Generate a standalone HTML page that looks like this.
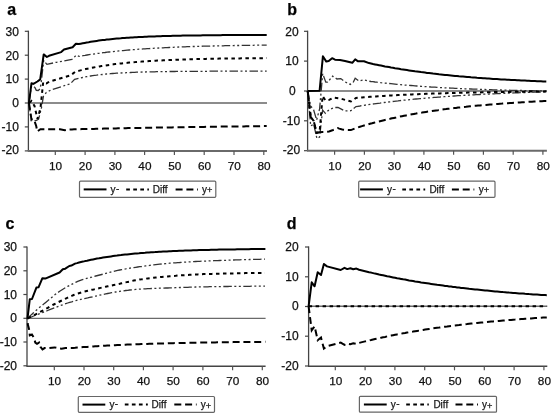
<!DOCTYPE html>
<html><head><meta charset="utf-8"><title>Figure</title>
<style>html,body{margin:0;padding:0;background:#fff;}svg{display:block;} text{stroke:#111;stroke-width:0.25px;}</style>
</head><body>
<svg width="552" height="413" viewBox="0 0 552 413">
<rect width="552" height="413" fill="#fff"/>
<line x1="28.4" y1="102.9" x2="267.0" y2="102.9" stroke="#8c8c8c" stroke-width="2.0"/>
<line x1="28.4" y1="30.7" x2="28.4" y2="150.9" stroke="#444" stroke-width="1.3"/>
<line x1="24.8" y1="31.3" x2="28.4" y2="31.3" stroke="#444" stroke-width="1.2"/>
<text x="18.9" y="36.0" text-anchor="end" font-family="Liberation Sans, Arial, sans-serif" font-size="12" fill="#111">30</text>
<line x1="24.8" y1="55.2" x2="28.4" y2="55.2" stroke="#444" stroke-width="1.2"/>
<text x="18.9" y="60.0" text-anchor="end" font-family="Liberation Sans, Arial, sans-serif" font-size="12" fill="#111">20</text>
<line x1="24.8" y1="79.1" x2="28.4" y2="79.1" stroke="#444" stroke-width="1.2"/>
<text x="18.9" y="83.0" text-anchor="end" font-family="Liberation Sans, Arial, sans-serif" font-size="12" fill="#111">10</text>
<line x1="24.8" y1="103.0" x2="28.4" y2="103.0" stroke="#444" stroke-width="1.2"/>
<text x="18.9" y="107.0" text-anchor="end" font-family="Liberation Sans, Arial, sans-serif" font-size="12" fill="#111">0</text>
<line x1="24.8" y1="126.9" x2="28.4" y2="126.9" stroke="#444" stroke-width="1.2"/>
<text x="18.9" y="131.0" text-anchor="end" font-family="Liberation Sans, Arial, sans-serif" font-size="12" fill="#111">-10</text>
<line x1="24.8" y1="150.9" x2="28.4" y2="150.9" stroke="#444" stroke-width="1.2"/>
<text x="18.9" y="154.0" text-anchor="end" font-family="Liberation Sans, Arial, sans-serif" font-size="12" fill="#111">-20</text>
<line x1="27.8" y1="150.9" x2="267.0" y2="150.9" stroke="#6a6a6a" stroke-width="2.0"/>
<line x1="55.3" y1="150.9" x2="55.3" y2="154.9" stroke="#555" stroke-width="1.2"/>
<text x="55.6" y="170.0" text-anchor="middle" font-family="Liberation Sans, Arial, sans-serif" font-size="11.8" fill="#111">10</text>
<line x1="85.1" y1="150.9" x2="85.1" y2="154.9" stroke="#555" stroke-width="1.2"/>
<text x="85.4" y="170.0" text-anchor="middle" font-family="Liberation Sans, Arial, sans-serif" font-size="11.8" fill="#111">20</text>
<line x1="114.9" y1="150.9" x2="114.9" y2="154.9" stroke="#555" stroke-width="1.2"/>
<text x="115.2" y="170.0" text-anchor="middle" font-family="Liberation Sans, Arial, sans-serif" font-size="11.8" fill="#111">30</text>
<line x1="144.6" y1="150.9" x2="144.6" y2="154.9" stroke="#555" stroke-width="1.2"/>
<text x="144.9" y="170.0" text-anchor="middle" font-family="Liberation Sans, Arial, sans-serif" font-size="11.8" fill="#111">40</text>
<line x1="174.4" y1="150.9" x2="174.4" y2="154.9" stroke="#555" stroke-width="1.2"/>
<text x="174.7" y="170.0" text-anchor="middle" font-family="Liberation Sans, Arial, sans-serif" font-size="11.8" fill="#111">50</text>
<line x1="204.2" y1="150.9" x2="204.2" y2="154.9" stroke="#555" stroke-width="1.2"/>
<text x="204.5" y="170.0" text-anchor="middle" font-family="Liberation Sans, Arial, sans-serif" font-size="11.8" fill="#111">60</text>
<line x1="234.0" y1="150.9" x2="234.0" y2="154.9" stroke="#555" stroke-width="1.2"/>
<text x="234.3" y="170.0" text-anchor="middle" font-family="Liberation Sans, Arial, sans-serif" font-size="11.8" fill="#111">70</text>
<line x1="263.8" y1="150.9" x2="263.8" y2="154.9" stroke="#555" stroke-width="1.2"/>
<text x="264.1" y="170.0" text-anchor="middle" font-family="Liberation Sans, Arial, sans-serif" font-size="11.8" fill="#111">80</text>
<text x="7.2" y="14.6" font-family="Liberation Sans, Arial, sans-serif" font-size="16" font-weight="bold" fill="#000">a</text>
<path d="M28.9 103.0 L31.5 86.0 L33.1 86.0 L35.0 87.6 L36.3 90.3 L38.2 90.5 L40.1 88.7 L41.1 83.3 L43.7 60.5 L46.9 64.3 L56.3 62.3 L71.8 59.5 L76.3 55.2 L79.1 56.4 L81.1 56.0 L83.1 55.7 L85.1 55.4 L87.1 55.0 L89.1 54.7 L91.1 54.4 L93.1 54.1 L95.1 53.8 L97.1 53.5 L99.1 53.3 L101.1 53.0 L103.1 52.7 L105.1 52.5 L107.1 52.2 L109.1 52.0 L111.1 51.8 L113.1 51.6 L115.1 51.3 L117.1 51.1 L119.1 50.9 L121.1 50.7 L123.1 50.6 L125.1 50.4 L127.1 50.2 L129.1 50.0 L131.1 49.9 L133.1 49.7 L135.1 49.5 L137.1 49.4 L139.1 49.2 L141.1 49.1 L143.1 48.9 L145.1 48.8 L147.1 48.7 L149.1 48.6 L151.1 48.4 L153.1 48.3 L155.1 48.2 L157.1 48.1 L159.1 48.0 L161.1 47.9 L163.1 47.8 L165.1 47.7 L167.1 47.6 L169.1 47.5 L171.1 47.4 L173.1 47.3 L175.1 47.2 L177.1 47.1 L179.1 47.0 L181.1 47.0 L183.1 46.9 L185.1 46.8 L187.1 46.7 L189.1 46.7 L191.1 46.6 L193.1 46.5 L195.1 46.5 L197.1 46.4 L199.1 46.4 L201.1 46.3 L203.1 46.2 L205.1 46.2 L207.1 46.1 L209.1 46.1 L211.1 46.0 L213.1 46.0 L215.1 45.9 L217.1 45.9 L219.1 45.8 L221.1 45.8 L223.1 45.8 L225.1 45.7 L227.1 45.7 L229.1 45.6 L231.1 45.6 L233.1 45.6 L235.1 45.5 L237.1 45.5 L239.1 45.5 L241.1 45.4 L243.1 45.4 L245.1 45.4 L247.1 45.4 L249.1 45.3 L251.1 45.3 L253.1 45.3 L255.1 45.2 L257.1 45.2 L259.1 45.2 L261.1 45.2 L263.1 45.2 L265.1 45.1 L266.7 45.1" fill="none" stroke="#333" stroke-width="1.3" stroke-dasharray="8.5 2.5 2 2.5 2 2.5"/>
<path d="M28.9 103.0 L30.8 117.3 L33.7 121.1 L36.5 120.5 L38.6 119.2 L41.5 107.6 L43.5 96.0 L46.3 92.5 L51.1 89.9 L63.3 86.0 L70.3 83.8 L74.6 79.4 L76.6 78.9 L78.6 78.4 L80.6 77.9 L82.6 77.5 L84.6 77.1 L86.6 76.7 L88.6 76.4 L90.6 76.0 L92.6 75.7 L94.6 75.4 L96.6 75.2 L98.6 74.9 L100.6 74.7 L102.6 74.5 L104.6 74.2 L106.6 74.0 L108.6 73.9 L110.6 73.7 L112.6 73.5 L114.6 73.4 L116.6 73.2 L118.6 73.1 L120.6 73.0 L122.6 72.9 L124.6 72.8 L126.6 72.7 L128.6 72.6 L130.6 72.5 L132.6 72.4 L134.6 72.3 L136.6 72.2 L138.6 72.2 L140.6 72.1 L142.6 72.0 L144.6 72.0 L146.6 71.9 L148.6 71.9 L150.6 71.8 L152.6 71.8 L154.6 71.8 L156.6 71.7 L158.6 71.7 L160.6 71.6 L162.6 71.6 L164.6 71.6 L166.6 71.6 L168.6 71.5 L170.6 71.5 L172.6 71.5 L174.6 71.5 L176.6 71.4 L178.6 71.4 L180.6 71.4 L182.6 71.4 L184.6 71.4 L186.6 71.4 L188.6 71.3 L190.6 71.3 L192.6 71.3 L194.6 71.3 L196.6 71.3 L198.6 71.3 L200.6 71.3 L202.6 71.3 L204.6 71.3 L206.6 71.3 L208.6 71.2 L210.6 71.2 L212.6 71.2 L214.6 71.2 L216.6 71.2 L218.6 71.2 L220.6 71.2 L222.6 71.2 L224.6 71.2 L226.6 71.2 L228.6 71.2 L230.6 71.2 L232.6 71.2 L234.6 71.2 L236.6 71.2 L238.6 71.2 L240.6 71.2 L242.6 71.2 L244.6 71.2 L246.6 71.2 L248.6 71.2 L250.6 71.2 L252.6 71.2 L254.6 71.2 L256.6 71.2 L258.6 71.2 L260.6 71.2 L262.6 71.2 L264.6 71.2 L266.6 71.2 L266.7 71.2" fill="none" stroke="#333" stroke-width="1.3" stroke-dasharray="8.5 2.5 2 2.5 2 2.5"/>
<path d="M28.9 103.0 L30.4 111.5 L31.5 120.5 L34.5 121.0 L36.2 126.0 L37.3 131.5 L40.4 129.3 L60.0 129.2 L64.8 130.2 L68.0 129.5 L70.0 129.4 L72.0 129.4 L74.0 129.3 L76.0 129.3 L78.0 129.2 L80.0 129.2 L82.0 129.1 L84.0 129.1 L86.0 129.1 L88.0 129.0 L90.0 129.0 L92.0 128.9 L94.0 128.9 L96.0 128.8 L98.0 128.8 L100.0 128.7 L102.0 128.7 L104.0 128.6 L106.0 128.6 L108.0 128.6 L110.0 128.5 L112.0 128.5 L114.0 128.4 L116.0 128.4 L118.0 128.3 L120.0 128.3 L122.0 128.3 L124.0 128.2 L126.0 128.2 L128.0 128.1 L130.0 128.1 L132.0 128.1 L134.0 128.0 L136.0 128.0 L138.0 127.9 L140.0 127.9 L142.0 127.9 L144.0 127.8 L146.0 127.8 L148.0 127.8 L150.0 127.7 L152.0 127.7 L154.0 127.7 L156.0 127.6 L158.0 127.6 L160.0 127.6 L162.0 127.5 L164.0 127.5 L166.0 127.5 L168.0 127.4 L170.0 127.4 L172.0 127.4 L174.0 127.3 L176.0 127.3 L178.0 127.3 L180.0 127.2 L182.0 127.2 L184.0 127.2 L186.0 127.1 L188.0 127.1 L190.0 127.1 L192.0 127.0 L194.0 127.0 L196.0 127.0 L198.0 127.0 L200.0 126.9 L202.0 126.9 L204.0 126.9 L206.0 126.8 L208.0 126.8 L210.0 126.8 L212.0 126.8 L214.0 126.7 L216.0 126.7 L218.0 126.7 L220.0 126.6 L222.0 126.6 L224.0 126.6 L226.0 126.6 L228.0 126.5 L230.0 126.5 L232.0 126.5 L234.0 126.5 L236.0 126.4 L238.0 126.4 L240.0 126.4 L242.0 126.4 L244.0 126.4 L246.0 126.3 L248.0 126.3 L250.0 126.3 L252.0 126.3 L254.0 126.2 L256.0 126.2 L258.0 126.2 L260.0 126.2 L262.0 126.1 L264.0 126.1 L266.0 126.1 L266.7 126.1" fill="none" stroke="#000" stroke-width="2" stroke-dasharray="7 3.8" stroke-dashoffset="0.0"/>
<path d="M28.9 103.0 L31.5 101.0 L34.5 106.0 L37.5 119.0 L40.5 108.0 L43.2 82.1 L46.5 83.4 L49.3 81.6 L70.3 75.5 L75.5 71.6 L77.5 71.1 L79.5 70.6 L81.5 70.1 L83.5 69.6 L85.5 69.1 L87.5 68.7 L89.5 68.3 L91.5 67.9 L93.5 67.5 L95.5 67.1 L97.5 66.8 L99.5 66.4 L101.5 66.1 L103.5 65.8 L105.5 65.5 L107.5 65.2 L109.5 64.9 L111.5 64.6 L113.5 64.3 L115.5 64.1 L117.5 63.9 L119.5 63.6 L121.5 63.4 L123.5 63.2 L125.5 63.0 L127.5 62.8 L129.5 62.6 L131.5 62.4 L133.5 62.2 L135.5 62.1 L137.5 61.9 L139.5 61.7 L141.5 61.6 L143.5 61.4 L145.5 61.3 L147.5 61.2 L149.5 61.0 L151.5 60.9 L153.5 60.8 L155.5 60.7 L157.5 60.6 L159.5 60.5 L161.5 60.4 L163.5 60.3 L165.5 60.2 L167.5 60.1 L169.5 60.0 L171.5 59.9 L173.5 59.8 L175.5 59.7 L177.5 59.7 L179.5 59.6 L181.5 59.5 L183.5 59.5 L185.5 59.4 L187.5 59.3 L189.5 59.3 L191.5 59.2 L193.5 59.2 L195.5 59.1 L197.5 59.1 L199.5 59.0 L201.5 59.0 L203.5 58.9 L205.5 58.9 L207.5 58.8 L209.5 58.8 L211.5 58.8 L213.5 58.7 L215.5 58.7 L217.5 58.7 L219.5 58.6 L221.5 58.6 L223.5 58.6 L225.5 58.5 L227.5 58.5 L229.5 58.5 L231.5 58.5 L233.5 58.4 L235.5 58.4 L237.5 58.4 L239.5 58.4 L241.5 58.3 L243.5 58.3 L245.5 58.3 L247.5 58.3 L249.5 58.3 L251.5 58.2 L253.5 58.2 L255.5 58.2 L257.5 58.2 L259.5 58.2 L261.5 58.2 L263.5 58.2 L265.5 58.1 L266.7 58.1" fill="none" stroke="#000" stroke-width="2" stroke-dasharray="3.5 3.5"/>
<path d="M28.9 103.3 L31.5 83.2 L33.4 83.9 L37.4 81.5 L40.2 79.4 L43.7 54.4 L46.9 57.0 L49.0 55.8 L61.2 52.1 L64.0 49.5 L72.6 47.2 L75.9 43.8 L78.7 44.1 L80.7 43.7 L82.7 43.3 L84.7 42.9 L86.7 42.5 L88.7 42.2 L90.7 41.8 L92.7 41.5 L94.7 41.2 L96.7 40.9 L98.7 40.6 L100.7 40.3 L102.7 40.1 L104.7 39.9 L106.7 39.6 L108.7 39.4 L110.7 39.2 L112.7 39.0 L114.7 38.8 L116.7 38.6 L118.7 38.4 L120.7 38.3 L122.7 38.1 L124.7 38.0 L126.7 37.8 L128.7 37.7 L130.7 37.5 L132.7 37.4 L134.7 37.3 L136.7 37.2 L138.7 37.1 L140.7 37.0 L142.7 36.9 L144.7 36.8 L146.7 36.7 L148.7 36.6 L150.7 36.5 L152.7 36.4 L154.7 36.4 L156.7 36.3 L158.7 36.2 L160.7 36.2 L162.7 36.1 L164.7 36.0 L166.7 36.0 L168.7 35.9 L170.7 35.9 L172.7 35.8 L174.7 35.8 L176.7 35.7 L178.7 35.7 L180.7 35.7 L182.7 35.6 L184.7 35.6 L186.7 35.6 L188.7 35.5 L190.7 35.5 L192.7 35.5 L194.7 35.4 L196.7 35.4 L198.7 35.4 L200.7 35.4 L202.7 35.3 L204.7 35.3 L206.7 35.3 L208.7 35.3 L210.7 35.2 L212.7 35.2 L214.7 35.2 L216.7 35.2 L218.7 35.2 L220.7 35.2 L222.7 35.1 L224.7 35.1 L226.7 35.1 L228.7 35.1 L230.7 35.1 L232.7 35.1 L234.7 35.1 L236.7 35.1 L238.7 35.0 L240.7 35.0 L242.7 35.0 L244.7 35.0 L246.7 35.0 L248.7 35.0 L250.7 35.0 L252.7 35.0 L254.7 35.0 L256.7 35.0 L258.7 35.0 L260.7 35.0 L262.7 35.0 L264.7 34.9 L266.7 34.9" fill="none" stroke="#000" stroke-width="2" stroke-linejoin="round"/>
<rect x="79.5" y="181.2" width="136.3" height="16.1" rx="1" fill="#fff" stroke="#666" stroke-width="1.2"/>
<line x1="83.7" y1="189.4" x2="106.5" y2="189.4" stroke="#000" stroke-width="2"/>
<line x1="126.2" y1="189.4" x2="148.9" y2="189.4" stroke="#000" stroke-width="2" stroke-dasharray="3.7 3.35"/>
<line x1="175.6" y1="189.4" x2="198.0" y2="189.4" stroke="#000" stroke-width="2" stroke-dasharray="7 3.8"/>
<text x="110.6" y="192.8" font-family="Liberation Sans, Arial, sans-serif" font-size="10" fill="#222">y<tspan dx="0.4" dy="-0.6">-</tspan></text>
<text x="152.8" y="192.8" font-family="Liberation Sans, Arial, sans-serif" font-size="10" fill="#222">Diff</text>
<text x="201.9" y="192.8" font-family="Liberation Sans, Arial, sans-serif" font-size="10" fill="#222">y<tspan dy="0.6" font-size="9.2">+</tspan></text>
<line x1="307.6" y1="90.9" x2="546.9" y2="90.9" stroke="#8c8c8c" stroke-width="2.0"/>
<line x1="307.6" y1="30.7" x2="307.6" y2="150.7" stroke="#444" stroke-width="1.3"/>
<line x1="304.0" y1="31.3" x2="307.6" y2="31.3" stroke="#444" stroke-width="1.2"/>
<text x="298.6" y="36.0" text-anchor="end" font-family="Liberation Sans, Arial, sans-serif" font-size="12" fill="#111">20</text>
<line x1="304.0" y1="61.1" x2="307.6" y2="61.1" stroke="#444" stroke-width="1.2"/>
<text x="298.6" y="65.0" text-anchor="end" font-family="Liberation Sans, Arial, sans-serif" font-size="12" fill="#111">10</text>
<line x1="304.0" y1="91.0" x2="307.6" y2="91.0" stroke="#444" stroke-width="1.2"/>
<text x="295.6" y="95.0" text-anchor="end" font-family="Liberation Sans, Arial, sans-serif" font-size="12" fill="#111">0</text>
<line x1="304.0" y1="120.8" x2="307.6" y2="120.8" stroke="#444" stroke-width="1.2"/>
<text x="300.1" y="125.0" text-anchor="end" font-family="Liberation Sans, Arial, sans-serif" font-size="12" fill="#111">-10</text>
<line x1="304.0" y1="150.7" x2="307.6" y2="150.7" stroke="#444" stroke-width="1.2"/>
<text x="300.1" y="154.0" text-anchor="end" font-family="Liberation Sans, Arial, sans-serif" font-size="12" fill="#111">-20</text>
<line x1="307.0" y1="150.7" x2="546.9" y2="150.7" stroke="#6a6a6a" stroke-width="2.0"/>
<line x1="334.6" y1="150.7" x2="334.6" y2="154.7" stroke="#555" stroke-width="1.2"/>
<text x="334.9" y="170.0" text-anchor="middle" font-family="Liberation Sans, Arial, sans-serif" font-size="11.8" fill="#111">10</text>
<line x1="364.4" y1="150.7" x2="364.4" y2="154.7" stroke="#555" stroke-width="1.2"/>
<text x="364.7" y="170.0" text-anchor="middle" font-family="Liberation Sans, Arial, sans-serif" font-size="11.8" fill="#111">20</text>
<line x1="394.1" y1="150.7" x2="394.1" y2="154.7" stroke="#555" stroke-width="1.2"/>
<text x="394.4" y="170.0" text-anchor="middle" font-family="Liberation Sans, Arial, sans-serif" font-size="11.8" fill="#111">30</text>
<line x1="423.9" y1="150.7" x2="423.9" y2="154.7" stroke="#555" stroke-width="1.2"/>
<text x="424.2" y="170.0" text-anchor="middle" font-family="Liberation Sans, Arial, sans-serif" font-size="11.8" fill="#111">40</text>
<line x1="453.6" y1="150.7" x2="453.6" y2="154.7" stroke="#555" stroke-width="1.2"/>
<text x="453.9" y="170.0" text-anchor="middle" font-family="Liberation Sans, Arial, sans-serif" font-size="11.8" fill="#111">50</text>
<line x1="483.4" y1="150.7" x2="483.4" y2="154.7" stroke="#555" stroke-width="1.2"/>
<text x="483.7" y="170.0" text-anchor="middle" font-family="Liberation Sans, Arial, sans-serif" font-size="11.8" fill="#111">60</text>
<line x1="513.2" y1="150.7" x2="513.2" y2="154.7" stroke="#555" stroke-width="1.2"/>
<text x="513.5" y="170.0" text-anchor="middle" font-family="Liberation Sans, Arial, sans-serif" font-size="11.8" fill="#111">70</text>
<line x1="542.9" y1="150.7" x2="542.9" y2="154.7" stroke="#555" stroke-width="1.2"/>
<text x="543.2" y="170.0" text-anchor="middle" font-family="Liberation Sans, Arial, sans-serif" font-size="11.8" fill="#111">80</text>
<text x="287.2" y="14.6" font-family="Liberation Sans, Arial, sans-serif" font-size="16" font-weight="bold" fill="#000">b</text>
<path d="M307.7 91.0 L310.7 106.0 L313.7 110.0 L316.6 120.0 L319.6 109.0 L322.7 73.7 L325.8 82.2 L327.7 82.2 L332.6 76.1 L337.0 79.0 L340.8 78.6 L345.1 81.9 L350.2 84.4 L353.1 82.7 L355.2 78.3 L358.9 80.9 L364.0 79.8 L369.0 81.2 L371.0 81.5 L373.0 81.7 L375.0 82.0 L377.0 82.2 L379.0 82.4 L381.0 82.7 L383.0 82.9 L385.0 83.1 L387.0 83.3 L389.0 83.5 L391.0 83.7 L393.0 83.9 L395.0 84.1 L397.0 84.3 L399.0 84.5 L401.0 84.7 L403.0 84.9 L405.0 85.1 L407.0 85.2 L409.0 85.4 L411.0 85.5 L413.0 85.7 L415.0 85.9 L417.0 86.0 L419.0 86.2 L421.0 86.3 L423.0 86.4 L425.0 86.6 L427.0 86.7 L429.0 86.8 L431.0 87.0 L433.0 87.1 L435.0 87.2 L437.0 87.3 L439.0 87.5 L441.0 87.6 L443.0 87.7 L445.0 87.8 L447.0 87.9 L449.0 88.0 L451.0 88.1 L453.0 88.2 L455.0 88.3 L457.0 88.4 L459.0 88.5 L461.0 88.6 L463.0 88.7 L465.0 88.8 L467.0 88.8 L469.0 88.9 L471.0 89.0 L473.0 89.1 L475.0 89.2 L477.0 89.2 L479.0 89.3 L481.0 89.4 L483.0 89.4 L485.0 89.5 L487.0 89.6 L489.0 89.6 L491.0 89.7 L493.0 89.8 L495.0 89.8 L497.0 89.9 L499.0 89.9 L501.0 90.0 L503.0 90.1 L505.0 90.1 L507.0 90.2 L509.0 90.2 L511.0 90.3 L513.0 90.3 L515.0 90.4 L517.0 90.4 L519.0 90.4 L521.0 90.5 L523.0 90.5 L525.0 90.6 L527.0 90.6 L529.0 90.7 L531.0 90.7 L533.0 90.7 L535.0 90.8 L537.0 90.8 L539.0 90.9 L541.0 90.9 L543.0 90.9 L545.0 91.0 L546.3 91.0" fill="none" stroke="#333" stroke-width="1.3" stroke-dasharray="8.5 2.5 2 2.5 2 2.5"/>
<path d="M307.7 91.0 L310.7 126.0 L313.7 124.0 L316.9 138.5 L319.6 137.0 L322.6 110.0 L325.4 113.3 L329.1 109.7 L334.2 107.5 L338.0 107.5 L341.3 109.1 L345.0 111.0 L350.9 110.7 L356.0 106.6 L358.0 106.3 L360.0 106.0 L362.0 105.6 L364.0 105.3 L366.0 105.0 L368.0 104.7 L370.0 104.4 L372.0 104.1 L374.0 103.9 L376.0 103.6 L378.0 103.3 L380.0 103.1 L382.0 102.8 L384.0 102.5 L386.0 102.3 L388.0 102.0 L390.0 101.8 L392.0 101.6 L394.0 101.3 L396.0 101.1 L398.0 100.9 L400.0 100.6 L402.0 100.4 L404.0 100.2 L406.0 100.0 L408.0 99.8 L410.0 99.6 L412.0 99.4 L414.0 99.2 L416.0 99.0 L418.0 98.8 L420.0 98.6 L422.0 98.5 L424.0 98.3 L426.0 98.1 L428.0 97.9 L430.0 97.8 L432.0 97.6 L434.0 97.4 L436.0 97.3 L438.0 97.1 L440.0 97.0 L442.0 96.8 L444.0 96.7 L446.0 96.5 L448.0 96.4 L450.0 96.3 L452.0 96.1 L454.0 96.0 L456.0 95.9 L458.0 95.7 L460.0 95.6 L462.0 95.5 L464.0 95.4 L466.0 95.2 L468.0 95.1 L470.0 95.0 L472.0 94.9 L474.0 94.8 L476.0 94.7 L478.0 94.6 L480.0 94.5 L482.0 94.4 L484.0 94.2 L486.0 94.1 L488.0 94.1 L490.0 94.0 L492.0 93.9 L494.0 93.8 L496.0 93.7 L498.0 93.6 L500.0 93.5 L502.0 93.4 L504.0 93.3 L506.0 93.2 L508.0 93.2 L510.0 93.1 L512.0 93.0 L514.0 92.9 L516.0 92.9 L518.0 92.8 L520.0 92.7 L522.0 92.6 L524.0 92.6 L526.0 92.5 L528.0 92.4 L530.0 92.4 L532.0 92.3 L534.0 92.2 L536.0 92.2 L538.0 92.1 L540.0 92.1 L542.0 92.0 L544.0 91.9 L546.0 91.9 L546.3 91.9" fill="none" stroke="#333" stroke-width="1.3" stroke-dasharray="8.5 2.5 2 2.5 2 2.5"/>
<path d="M307.7 91.0 L310.7 117.0 L313.8 121.2 L316.5 132.8 L319.6 132.3 L322.6 132.0 L325.6 132.0 L329.0 131.5 L333.1 130.0 L337.9 128.1 L339.2 128.6 L342.3 129.5 L344.3 129.8 L350.9 130.1 L356.0 128.0 L358.0 127.4 L360.0 126.7 L362.0 126.1 L364.0 125.5 L366.0 124.9 L368.0 124.4 L370.0 123.8 L372.0 123.3 L374.0 122.7 L376.0 122.2 L378.0 121.7 L380.0 121.2 L382.0 120.7 L384.0 120.2 L386.0 119.7 L388.0 119.2 L390.0 118.8 L392.0 118.3 L394.0 117.9 L396.0 117.5 L398.0 117.0 L400.0 116.6 L402.0 116.2 L404.0 115.8 L406.0 115.4 L408.0 115.0 L410.0 114.7 L412.0 114.3 L414.0 113.9 L416.0 113.6 L418.0 113.2 L420.0 112.9 L422.0 112.6 L424.0 112.2 L426.0 111.9 L428.0 111.6 L430.0 111.3 L432.0 111.0 L434.0 110.7 L436.0 110.4 L438.0 110.2 L440.0 109.9 L442.0 109.6 L444.0 109.3 L446.0 109.1 L448.0 108.8 L450.0 108.6 L452.0 108.3 L454.0 108.1 L456.0 107.9 L458.0 107.6 L460.0 107.4 L462.0 107.2 L464.0 107.0 L466.0 106.8 L468.0 106.5 L470.0 106.3 L472.0 106.1 L474.0 105.9 L476.0 105.8 L478.0 105.6 L480.0 105.4 L482.0 105.2 L484.0 105.0 L486.0 104.9 L488.0 104.7 L490.0 104.5 L492.0 104.4 L494.0 104.2 L496.0 104.0 L498.0 103.9 L500.0 103.7 L502.0 103.6 L504.0 103.4 L506.0 103.3 L508.0 103.2 L510.0 103.0 L512.0 102.9 L514.0 102.8 L516.0 102.6 L518.0 102.5 L520.0 102.4 L522.0 102.3 L524.0 102.2 L526.0 102.0 L528.0 101.9 L530.0 101.8 L532.0 101.7 L534.0 101.6 L536.0 101.5 L538.0 101.4 L540.0 101.3 L542.0 101.2 L544.0 101.1 L546.0 101.0 L546.3 101.0" fill="none" stroke="#000" stroke-width="2" stroke-dasharray="7 3.8" stroke-dashoffset="0.0"/>
<path d="M307.7 91.0 L310.7 117.0 L313.7 121.0 L316.6 133.0 L319.6 132.0 L322.6 96.0 L325.4 100.3 L329.2 99.9 L333.5 97.5 L339.9 98.4 L345.8 100.1 L350.9 101.5 L356.0 97.9 L358.0 97.7 L360.0 97.6 L362.0 97.4 L364.0 97.2 L366.0 97.1 L368.0 96.9 L370.0 96.8 L372.0 96.7 L374.0 96.5 L376.0 96.4 L378.0 96.2 L380.0 96.1 L382.0 96.0 L384.0 95.9 L386.0 95.7 L388.0 95.6 L390.0 95.5 L392.0 95.4 L394.0 95.3 L396.0 95.2 L398.0 95.1 L400.0 95.0 L402.0 94.9 L404.0 94.8 L406.0 94.7 L408.0 94.6 L410.0 94.5 L412.0 94.4 L414.0 94.3 L416.0 94.2 L418.0 94.2 L420.0 94.1 L422.0 94.0 L424.0 93.9 L426.0 93.8 L428.0 93.8 L430.0 93.7 L432.0 93.6 L434.0 93.6 L436.0 93.5 L438.0 93.4 L440.0 93.4 L442.0 93.3 L444.0 93.2 L446.0 93.2 L448.0 93.1 L450.0 93.1 L452.0 93.0 L454.0 93.0 L456.0 92.9 L458.0 92.9 L460.0 92.8 L462.0 92.8 L464.0 92.7 L466.0 92.7 L468.0 92.6 L470.0 92.6 L472.0 92.5 L474.0 92.5 L476.0 92.4 L478.0 92.4 L480.0 92.4 L482.0 92.3 L484.0 92.3 L486.0 92.3 L488.0 92.2 L490.0 92.2 L492.0 92.1 L494.0 92.1 L496.0 92.1 L498.0 92.0 L500.0 92.0 L502.0 92.0 L504.0 92.0 L506.0 91.9 L508.0 91.9 L510.0 91.9 L512.0 91.8 L514.0 91.8 L516.0 91.8 L518.0 91.8 L520.0 91.7 L522.0 91.7 L524.0 91.7 L526.0 91.7 L528.0 91.7 L530.0 91.6 L532.0 91.6 L534.0 91.6 L536.0 91.6 L538.0 91.5 L540.0 91.5 L542.0 91.5 L544.0 91.5 L546.0 91.5 L546.3 91.5" fill="none" stroke="#000" stroke-width="2" stroke-dasharray="3.5 3.5"/>
<path d="M307.7 91.0 L319.6 90.8 L322.9 56.3 L326.3 61.6 L328.7 61.1 L332.1 58.2 L335.0 59.7 L340.0 60.0 L345.0 61.1 L352.3 62.8 L355.2 59.4 L358.1 61.3 L364.0 61.3 L369.0 63.1 L371.0 63.5 L373.0 64.0 L375.0 64.4 L377.0 64.8 L379.0 65.2 L381.0 65.6 L383.0 66.0 L385.0 66.4 L387.0 66.7 L389.0 67.1 L391.0 67.5 L393.0 67.8 L395.0 68.2 L397.0 68.5 L399.0 68.8 L401.0 69.2 L403.0 69.5 L405.0 69.8 L407.0 70.1 L409.0 70.4 L411.0 70.7 L413.0 71.0 L415.0 71.3 L417.0 71.5 L419.0 71.8 L421.0 72.1 L423.0 72.3 L425.0 72.6 L427.0 72.9 L429.0 73.1 L431.0 73.3 L433.0 73.6 L435.0 73.8 L437.0 74.0 L439.0 74.3 L441.0 74.5 L443.0 74.7 L445.0 74.9 L447.0 75.1 L449.0 75.3 L451.0 75.5 L453.0 75.7 L455.0 75.9 L457.0 76.1 L459.0 76.3 L461.0 76.4 L463.0 76.6 L465.0 76.8 L467.0 77.0 L469.0 77.1 L471.0 77.3 L473.0 77.4 L475.0 77.6 L477.0 77.8 L479.0 77.9 L481.0 78.0 L483.0 78.2 L485.0 78.3 L487.0 78.5 L489.0 78.6 L491.0 78.7 L493.0 78.9 L495.0 79.0 L497.0 79.1 L499.0 79.2 L501.0 79.4 L503.0 79.5 L505.0 79.6 L507.0 79.7 L509.0 79.8 L511.0 79.9 L513.0 80.0 L515.0 80.1 L517.0 80.2 L519.0 80.3 L521.0 80.4 L523.0 80.5 L525.0 80.6 L527.0 80.7 L529.0 80.8 L531.0 80.9 L533.0 81.0 L535.0 81.1 L537.0 81.2 L539.0 81.3 L541.0 81.3 L543.0 81.4 L545.0 81.5 L546.3 81.5" fill="none" stroke="#000" stroke-width="2" stroke-linejoin="round"/>
<rect x="358.7" y="181.2" width="136.3" height="16.1" rx="1" fill="#fff" stroke="#666" stroke-width="1.2"/>
<line x1="360.1" y1="189.4" x2="382.9" y2="189.4" stroke="#000" stroke-width="2"/>
<line x1="402.3" y1="189.4" x2="425.2" y2="189.4" stroke="#000" stroke-width="2" stroke-dasharray="3.7 3.35"/>
<line x1="451.9" y1="189.4" x2="474.3" y2="189.4" stroke="#000" stroke-width="2" stroke-dasharray="7 3.8"/>
<text x="387.0" y="192.8" font-family="Liberation Sans, Arial, sans-serif" font-size="10" fill="#222">y<tspan dx="0.4" dy="-0.6">-</tspan></text>
<text x="429.4" y="192.8" font-family="Liberation Sans, Arial, sans-serif" font-size="10" fill="#222">Diff</text>
<text x="478.8" y="192.8" font-family="Liberation Sans, Arial, sans-serif" font-size="10" fill="#222">y<tspan dy="0.6" font-size="9.2">+</tspan></text>
<line x1="27.0" y1="318.4" x2="265.6" y2="318.4" stroke="#6a6a6a" stroke-width="1.4"/>
<line x1="27.0" y1="246.4" x2="27.0" y2="366.3" stroke="#444" stroke-width="1.3"/>
<line x1="23.4" y1="247.0" x2="27.0" y2="247.0" stroke="#444" stroke-width="1.2"/>
<text x="17.0" y="251.0" text-anchor="end" font-family="Liberation Sans, Arial, sans-serif" font-size="12" fill="#111">30</text>
<line x1="23.4" y1="270.8" x2="27.0" y2="270.8" stroke="#444" stroke-width="1.2"/>
<text x="17.0" y="275.0" text-anchor="end" font-family="Liberation Sans, Arial, sans-serif" font-size="12" fill="#111">20</text>
<line x1="23.4" y1="294.5" x2="27.0" y2="294.5" stroke="#444" stroke-width="1.2"/>
<text x="17.0" y="299.0" text-anchor="end" font-family="Liberation Sans, Arial, sans-serif" font-size="12" fill="#111">10</text>
<line x1="23.4" y1="318.3" x2="27.0" y2="318.3" stroke="#444" stroke-width="1.2"/>
<text x="17.0" y="322.0" text-anchor="end" font-family="Liberation Sans, Arial, sans-serif" font-size="12" fill="#111">0</text>
<line x1="23.4" y1="342.0" x2="27.0" y2="342.0" stroke="#444" stroke-width="1.2"/>
<text x="17.0" y="346.0" text-anchor="end" font-family="Liberation Sans, Arial, sans-serif" font-size="12" fill="#111">-10</text>
<line x1="23.4" y1="365.8" x2="27.0" y2="365.8" stroke="#444" stroke-width="1.2"/>
<text x="17.0" y="370.0" text-anchor="end" font-family="Liberation Sans, Arial, sans-serif" font-size="12" fill="#111">-20</text>
<line x1="26.4" y1="366.3" x2="265.6" y2="366.3" stroke="#444" stroke-width="1.4"/>
<line x1="54.3" y1="366.3" x2="54.3" y2="370.3" stroke="#555" stroke-width="1.2"/>
<text x="54.5" y="385.0" text-anchor="middle" font-family="Liberation Sans, Arial, sans-serif" font-size="11.8" fill="#111">10</text>
<line x1="84.0" y1="366.3" x2="84.0" y2="370.3" stroke="#555" stroke-width="1.2"/>
<text x="84.2" y="385.0" text-anchor="middle" font-family="Liberation Sans, Arial, sans-serif" font-size="11.8" fill="#111">20</text>
<line x1="113.7" y1="366.3" x2="113.7" y2="370.3" stroke="#555" stroke-width="1.2"/>
<text x="113.9" y="385.0" text-anchor="middle" font-family="Liberation Sans, Arial, sans-serif" font-size="11.8" fill="#111">30</text>
<line x1="143.4" y1="366.3" x2="143.4" y2="370.3" stroke="#555" stroke-width="1.2"/>
<text x="143.6" y="385.0" text-anchor="middle" font-family="Liberation Sans, Arial, sans-serif" font-size="11.8" fill="#111">40</text>
<line x1="173.1" y1="366.3" x2="173.1" y2="370.3" stroke="#555" stroke-width="1.2"/>
<text x="173.3" y="385.0" text-anchor="middle" font-family="Liberation Sans, Arial, sans-serif" font-size="11.8" fill="#111">50</text>
<line x1="202.9" y1="366.3" x2="202.9" y2="370.3" stroke="#555" stroke-width="1.2"/>
<text x="203.1" y="385.0" text-anchor="middle" font-family="Liberation Sans, Arial, sans-serif" font-size="11.8" fill="#111">60</text>
<line x1="232.6" y1="366.3" x2="232.6" y2="370.3" stroke="#555" stroke-width="1.2"/>
<text x="232.8" y="385.0" text-anchor="middle" font-family="Liberation Sans, Arial, sans-serif" font-size="11.8" fill="#111">70</text>
<line x1="262.3" y1="366.3" x2="262.3" y2="370.3" stroke="#555" stroke-width="1.2"/>
<text x="262.5" y="385.0" text-anchor="middle" font-family="Liberation Sans, Arial, sans-serif" font-size="11.8" fill="#111">80</text>
<text x="5.6" y="228.6" font-family="Liberation Sans, Arial, sans-serif" font-size="16" font-weight="bold" fill="#000">c</text>
<path d="M27.7 318.3 L29.7 316.3 L31.7 314.4 L33.7 312.6 L35.7 310.8 L37.7 309.0 L39.7 307.3 L41.7 305.7 L43.7 304.1 L45.7 302.4 L47.7 300.8 L49.7 299.1 L51.7 297.4 L53.7 295.7 L55.7 294.1 L57.7 292.7 L59.7 291.3 L61.7 290.0 L63.7 288.7 L65.7 287.5 L67.7 286.4 L69.7 285.3 L71.7 284.3 L73.7 283.3 L75.7 282.3 L77.7 281.4 L79.7 280.6 L81.7 279.8 L83.7 279.2 L85.7 278.7 L87.7 278.1 L89.7 277.6 L91.7 277.1 L93.7 276.5 L95.7 276.0 L97.7 275.5 L99.7 275.0 L101.7 274.5 L103.7 274.0 L105.7 273.4 L107.7 272.9 L109.7 272.4 L111.7 271.8 L113.7 271.3 L115.7 270.8 L117.7 270.4 L119.7 270.0 L121.7 269.6 L123.7 269.2 L125.7 268.9 L127.7 268.5 L129.7 268.2 L131.7 267.9 L133.7 267.6 L135.7 267.3 L137.7 267.0 L139.7 266.7 L141.7 266.5 L143.7 266.2 L145.7 265.9 L147.7 265.7 L149.7 265.4 L151.7 265.1 L153.7 264.9 L155.7 264.6 L157.7 264.4 L159.7 264.2 L161.7 264.0 L163.7 263.8 L165.7 263.6 L167.7 263.4 L169.7 263.2 L171.7 263.1 L173.7 262.9 L175.7 262.8 L177.7 262.6 L179.7 262.5 L181.7 262.3 L183.7 262.2 L185.7 262.1 L187.7 262.0 L189.7 261.9 L191.7 261.7 L193.7 261.6 L195.7 261.5 L197.7 261.4 L199.7 261.3 L201.7 261.2 L203.7 261.2 L205.7 261.1 L207.7 261.0 L209.7 260.9 L211.7 260.8 L213.7 260.7 L215.7 260.7 L217.7 260.6 L219.7 260.5 L221.7 260.4 L223.7 260.3 L225.7 260.3 L227.7 260.2 L229.7 260.1 L231.7 260.0 L233.7 260.0 L235.7 259.9 L237.7 259.8 L239.7 259.8 L241.7 259.7 L243.7 259.7 L245.7 259.6 L247.7 259.6 L249.7 259.5 L251.7 259.5 L253.7 259.4 L255.7 259.4 L257.7 259.3 L259.7 259.3 L261.7 259.2 L263.7 259.2 L265.0 259.2" fill="none" stroke="#333" stroke-width="1.3" stroke-dasharray="8.5 2.5 2 2.5 2 2.5"/>
<path d="M27.7 318.3 L29.7 317.5 L31.7 316.8 L33.7 316.0 L35.7 315.2 L37.7 314.4 L39.7 313.7 L41.7 312.9 L43.7 312.1 L45.7 311.3 L47.7 310.5 L49.7 309.7 L51.7 308.9 L53.7 308.1 L55.7 307.4 L57.7 306.6 L59.7 305.8 L61.7 305.1 L63.7 304.4 L65.7 303.7 L67.7 303.0 L69.7 302.4 L71.7 301.8 L73.7 301.1 L75.7 300.6 L77.7 300.1 L79.7 299.6 L81.7 299.2 L83.7 298.7 L85.7 298.3 L87.7 297.9 L89.7 297.4 L91.7 297.0 L93.7 296.5 L95.7 296.1 L97.7 295.6 L99.7 295.1 L101.7 294.7 L103.7 294.3 L105.7 293.9 L107.7 293.5 L109.7 293.1 L111.7 292.7 L113.7 292.3 L115.7 292.0 L117.7 291.7 L119.7 291.4 L121.7 291.1 L123.7 290.8 L125.7 290.5 L127.7 290.3 L129.7 290.0 L131.7 289.8 L133.7 289.6 L135.7 289.4 L137.7 289.3 L139.7 289.1 L141.7 289.0 L143.7 288.9 L145.7 288.8 L147.7 288.7 L149.7 288.6 L151.7 288.5 L153.7 288.5 L155.7 288.4 L157.7 288.3 L159.7 288.2 L161.7 288.2 L163.7 288.1 L165.7 288.0 L167.7 288.0 L169.7 287.9 L171.7 287.8 L173.7 287.8 L175.7 287.7 L177.7 287.6 L179.7 287.5 L181.7 287.5 L183.7 287.4 L185.7 287.3 L187.7 287.3 L189.7 287.2 L191.7 287.1 L193.7 287.1 L195.7 287.0 L197.7 287.0 L199.7 286.9 L201.7 286.9 L203.7 286.8 L205.7 286.8 L207.7 286.8 L209.7 286.7 L211.7 286.7 L213.7 286.7 L215.7 286.6 L217.7 286.6 L219.7 286.6 L221.7 286.5 L223.7 286.5 L225.7 286.5 L227.7 286.5 L229.7 286.4 L231.7 286.4 L233.7 286.4 L235.7 286.4 L237.7 286.4 L239.7 286.3 L241.7 286.3 L243.7 286.3 L245.7 286.3 L247.7 286.3 L249.7 286.3 L251.7 286.2 L253.7 286.2 L255.7 286.2 L257.7 286.2 L259.7 286.2 L261.7 286.2 L263.7 286.2 L265.0 286.2" fill="none" stroke="#333" stroke-width="1.3" stroke-dasharray="8.5 2.5 2 2.5 2 2.5"/>
<path d="M27.5 318.3 L27.9 324.8 L29.0 329.0 L29.8 335.4 L31.9 334.5 L34.0 337.9 L35.3 342.6 L37.0 343.8 L39.1 342.6 L40.4 346.8 L42.5 349.4 L44.6 348.1 L48.7 348.1 L54.5 347.4 L58.0 348.2 L61.7 348.8 L65.4 348.1 L71.2 348.1 L73.2 347.9 L75.2 347.8 L77.2 347.6 L79.2 347.4 L81.2 347.3 L83.2 347.1 L85.2 347.0 L87.2 346.9 L89.2 346.7 L91.2 346.6 L93.2 346.4 L95.2 346.3 L97.2 346.2 L99.2 346.1 L101.2 346.0 L103.2 345.8 L105.2 345.7 L107.2 345.6 L109.2 345.5 L111.2 345.4 L113.2 345.3 L115.2 345.2 L117.2 345.1 L119.2 345.0 L121.2 344.9 L123.2 344.8 L125.2 344.7 L127.2 344.6 L129.2 344.6 L131.2 344.5 L133.2 344.4 L135.2 344.3 L137.2 344.2 L139.2 344.2 L141.2 344.1 L143.2 344.0 L145.2 344.0 L147.2 343.9 L149.2 343.8 L151.2 343.8 L153.2 343.7 L155.2 343.6 L157.2 343.6 L159.2 343.5 L161.2 343.5 L163.2 343.4 L165.2 343.4 L167.2 343.3 L169.2 343.2 L171.2 343.2 L173.2 343.2 L175.2 343.1 L177.2 343.1 L179.2 343.0 L181.2 343.0 L183.2 342.9 L185.2 342.9 L187.2 342.8 L189.2 342.8 L191.2 342.8 L193.2 342.7 L195.2 342.7 L197.2 342.7 L199.2 342.6 L201.2 342.6 L203.2 342.6 L205.2 342.5 L207.2 342.5 L209.2 342.5 L211.2 342.4 L213.2 342.4 L215.2 342.4 L217.2 342.3 L219.2 342.3 L221.2 342.3 L223.2 342.3 L225.2 342.2 L227.2 342.2 L229.2 342.2 L231.2 342.2 L233.2 342.1 L235.2 342.1 L237.2 342.1 L239.2 342.1 L241.2 342.1 L243.2 342.0 L245.2 342.0 L247.2 342.0 L249.2 342.0 L251.2 342.0 L253.2 341.9 L255.2 341.9 L257.2 341.9 L259.2 341.9 L261.2 341.9 L263.2 341.9 L265.2 341.8 L265.4 341.8" fill="none" stroke="#000" stroke-width="2" stroke-dasharray="7 3.8" stroke-dashoffset="6.0"/>
<path d="M27.7 318.3 L29.7 317.3 L31.7 316.3 L33.7 315.3 L35.7 314.3 L37.7 313.3 L39.7 312.2 L41.7 311.1 L43.7 310.0 L45.7 308.9 L47.7 307.8 L49.7 306.6 L51.7 305.6 L53.7 304.5 L55.7 303.5 L57.7 302.5 L59.7 301.5 L61.7 300.5 L63.7 299.6 L65.7 298.6 L67.7 297.7 L69.7 296.8 L71.7 295.9 L73.7 295.0 L75.7 294.2 L77.7 293.6 L79.7 293.0 L81.7 292.4 L83.7 291.8 L85.7 291.3 L87.7 290.8 L89.7 290.3 L91.7 289.8 L93.7 289.4 L95.7 288.9 L97.7 288.5 L99.7 288.1 L101.7 287.6 L103.7 287.2 L105.7 286.7 L107.7 286.3 L109.7 285.9 L111.7 285.5 L113.7 285.0 L115.7 284.6 L117.7 284.2 L119.7 283.8 L121.7 283.3 L123.7 282.9 L125.7 282.4 L127.7 281.9 L129.7 281.5 L131.7 281.0 L133.7 280.6 L135.7 280.2 L137.7 279.9 L139.7 279.5 L141.7 279.3 L143.7 279.0 L145.7 278.7 L147.7 278.4 L149.7 278.2 L151.7 278.0 L153.7 277.7 L155.7 277.5 L157.7 277.3 L159.7 277.1 L161.7 276.9 L163.7 276.7 L165.7 276.6 L167.7 276.4 L169.7 276.2 L171.7 276.1 L173.7 275.9 L175.7 275.8 L177.7 275.6 L179.7 275.5 L181.7 275.3 L183.7 275.2 L185.7 275.1 L187.7 274.9 L189.7 274.8 L191.7 274.7 L193.7 274.6 L195.7 274.5 L197.7 274.4 L199.7 274.3 L201.7 274.2 L203.7 274.1 L205.7 274.1 L207.7 274.0 L209.7 274.0 L211.7 273.9 L213.7 273.8 L215.7 273.8 L217.7 273.7 L219.7 273.7 L221.7 273.6 L223.7 273.6 L225.7 273.5 L227.7 273.5 L229.7 273.4 L231.7 273.4 L233.7 273.4 L235.7 273.3 L237.7 273.3 L239.7 273.2 L241.7 273.2 L243.7 273.2 L245.7 273.1 L247.7 273.1 L249.7 273.1 L251.7 273.1 L253.7 273.1 L255.7 273.0 L257.7 273.0 L259.7 273.0 L261.7 273.0 L263.7 273.0 L265.0 273.0" fill="none" stroke="#000" stroke-width="2" stroke-dasharray="3.5 3.5"/>
<path d="M27.5 318.3 L29.8 299.2 L32.0 299.0 L36.4 287.6 L38.5 287.3 L42.3 278.3 L45.3 278.6 L59.6 272.5 L62.8 269.3 L65.3 268.7 L69.3 266.0 L71.4 265.6 L75.0 263.6 L77.0 263.1 L79.0 262.5 L81.0 262.0 L83.0 261.6 L85.0 261.1 L87.0 260.7 L89.0 260.2 L91.0 259.8 L93.0 259.4 L95.0 259.0 L97.0 258.6 L99.0 258.3 L101.0 257.9 L103.0 257.6 L105.0 257.3 L107.0 257.0 L109.0 256.7 L111.0 256.4 L113.0 256.1 L115.0 255.8 L117.0 255.6 L119.0 255.3 L121.0 255.1 L123.0 254.8 L125.0 254.6 L127.0 254.4 L129.0 254.2 L131.0 254.0 L133.0 253.8 L135.0 253.6 L137.0 253.4 L139.0 253.3 L141.0 253.1 L143.0 252.9 L145.0 252.8 L147.0 252.6 L149.0 252.5 L151.0 252.3 L153.0 252.2 L155.0 252.1 L157.0 251.9 L159.0 251.8 L161.0 251.7 L163.0 251.6 L165.0 251.5 L167.0 251.4 L169.0 251.3 L171.0 251.2 L173.0 251.1 L175.0 251.0 L177.0 250.9 L179.0 250.8 L181.0 250.7 L183.0 250.7 L185.0 250.6 L187.0 250.5 L189.0 250.4 L191.0 250.4 L193.0 250.3 L195.0 250.2 L197.0 250.2 L199.0 250.1 L201.0 250.1 L203.0 250.0 L205.0 250.0 L207.0 249.9 L209.0 249.9 L211.0 249.8 L213.0 249.8 L215.0 249.7 L217.0 249.7 L219.0 249.6 L221.0 249.6 L223.0 249.6 L225.0 249.5 L227.0 249.5 L229.0 249.4 L231.0 249.4 L233.0 249.4 L235.0 249.4 L237.0 249.3 L239.0 249.3 L241.0 249.3 L243.0 249.2 L245.0 249.2 L247.0 249.2 L249.0 249.2 L251.0 249.1 L253.0 249.1 L255.0 249.1 L257.0 249.1 L259.0 249.1 L261.0 249.0 L263.0 249.0 L265.0 249.0 L265.4 249.0" fill="none" stroke="#000" stroke-width="2" stroke-linejoin="round"/>
<rect x="78.3" y="396.5" width="136.2" height="15.8" rx="1" fill="#fff" stroke="#666" stroke-width="1.2"/>
<line x1="82.5" y1="404.6" x2="105.3" y2="404.6" stroke="#000" stroke-width="2"/>
<line x1="124.8" y1="404.6" x2="147.8" y2="404.6" stroke="#000" stroke-width="2" stroke-dasharray="3.7 3.35"/>
<line x1="174.3" y1="404.6" x2="196.6" y2="404.6" stroke="#000" stroke-width="2" stroke-dasharray="7 3.8"/>
<text x="109.4" y="408.0" font-family="Liberation Sans, Arial, sans-serif" font-size="10" fill="#222">y<tspan dx="0.4" dy="-0.6">-</tspan></text>
<text x="151.6" y="408.0" font-family="Liberation Sans, Arial, sans-serif" font-size="10" fill="#222">Diff</text>
<text x="200.7" y="408.0" font-family="Liberation Sans, Arial, sans-serif" font-size="10" fill="#222">y<tspan dy="0.6" font-size="9.2">+</tspan></text>
<line x1="308.6" y1="306.3" x2="547.3" y2="306.3" stroke="#6a6a6a" stroke-width="1.4"/>
<line x1="308.6" y1="246.4" x2="308.6" y2="366.3" stroke="#444" stroke-width="1.3"/>
<line x1="305.0" y1="247.0" x2="308.6" y2="247.0" stroke="#444" stroke-width="1.2"/>
<text x="298.6" y="251.0" text-anchor="end" font-family="Liberation Sans, Arial, sans-serif" font-size="12" fill="#111">20</text>
<line x1="305.0" y1="276.8" x2="308.6" y2="276.8" stroke="#444" stroke-width="1.2"/>
<text x="298.6" y="281.0" text-anchor="end" font-family="Liberation Sans, Arial, sans-serif" font-size="12" fill="#111">10</text>
<line x1="305.0" y1="306.5" x2="308.6" y2="306.5" stroke="#444" stroke-width="1.2"/>
<text x="298.6" y="310.0" text-anchor="end" font-family="Liberation Sans, Arial, sans-serif" font-size="12" fill="#111">0</text>
<line x1="305.0" y1="336.2" x2="308.6" y2="336.2" stroke="#444" stroke-width="1.2"/>
<text x="298.6" y="340.0" text-anchor="end" font-family="Liberation Sans, Arial, sans-serif" font-size="12" fill="#111">-10</text>
<line x1="305.0" y1="366.0" x2="308.6" y2="366.0" stroke="#444" stroke-width="1.2"/>
<text x="298.6" y="370.0" text-anchor="end" font-family="Liberation Sans, Arial, sans-serif" font-size="12" fill="#111">-20</text>
<line x1="308.0" y1="366.3" x2="547.3" y2="366.3" stroke="#444" stroke-width="1.4"/>
<line x1="335.3" y1="366.3" x2="335.3" y2="370.3" stroke="#555" stroke-width="1.2"/>
<text x="335.8" y="385.0" text-anchor="middle" font-family="Liberation Sans, Arial, sans-serif" font-size="11.8" fill="#111">10</text>
<line x1="365.1" y1="366.3" x2="365.1" y2="370.3" stroke="#555" stroke-width="1.2"/>
<text x="365.6" y="385.0" text-anchor="middle" font-family="Liberation Sans, Arial, sans-serif" font-size="11.8" fill="#111">20</text>
<line x1="394.9" y1="366.3" x2="394.9" y2="370.3" stroke="#555" stroke-width="1.2"/>
<text x="395.4" y="385.0" text-anchor="middle" font-family="Liberation Sans, Arial, sans-serif" font-size="11.8" fill="#111">30</text>
<line x1="424.7" y1="366.3" x2="424.7" y2="370.3" stroke="#555" stroke-width="1.2"/>
<text x="425.2" y="385.0" text-anchor="middle" font-family="Liberation Sans, Arial, sans-serif" font-size="11.8" fill="#111">40</text>
<line x1="454.5" y1="366.3" x2="454.5" y2="370.3" stroke="#555" stroke-width="1.2"/>
<text x="455.0" y="385.0" text-anchor="middle" font-family="Liberation Sans, Arial, sans-serif" font-size="11.8" fill="#111">50</text>
<line x1="484.3" y1="366.3" x2="484.3" y2="370.3" stroke="#555" stroke-width="1.2"/>
<text x="484.8" y="385.0" text-anchor="middle" font-family="Liberation Sans, Arial, sans-serif" font-size="11.8" fill="#111">60</text>
<line x1="514.1" y1="366.3" x2="514.1" y2="370.3" stroke="#555" stroke-width="1.2"/>
<text x="514.6" y="385.0" text-anchor="middle" font-family="Liberation Sans, Arial, sans-serif" font-size="11.8" fill="#111">70</text>
<line x1="543.9" y1="366.3" x2="543.9" y2="370.3" stroke="#555" stroke-width="1.2"/>
<text x="544.4" y="385.0" text-anchor="middle" font-family="Liberation Sans, Arial, sans-serif" font-size="11.8" fill="#111">80</text>
<text x="286.8" y="228.8" font-family="Liberation Sans, Arial, sans-serif" font-size="16" font-weight="bold" fill="#000">d</text>
<path d="M308.6 306.3 L311.7 330.3 L314.6 326.3 L317.7 340.3 L321.0 337.6 L323.9 348.6 L327.0 346.2 L340.7 342.6 L344.5 344.8 L347.2 343.5 L350.4 344.3 L353.2 343.3 L356.4 344.0 L359.1 342.9 L361.1 342.4 L363.1 341.9 L365.1 341.4 L367.1 340.9 L369.1 340.4 L371.1 340.0 L373.1 339.5 L375.1 339.0 L377.1 338.6 L379.1 338.1 L381.1 337.7 L383.1 337.3 L385.1 336.9 L387.1 336.4 L389.1 336.0 L391.1 335.6 L393.1 335.2 L395.1 334.8 L397.1 334.4 L399.1 334.1 L401.1 333.7 L403.1 333.3 L405.1 333.0 L407.1 332.6 L409.1 332.2 L411.1 331.9 L413.1 331.6 L415.1 331.2 L417.1 330.9 L419.1 330.6 L421.1 330.2 L423.1 329.9 L425.1 329.6 L427.1 329.3 L429.1 329.0 L431.1 328.7 L433.1 328.4 L435.1 328.1 L437.1 327.8 L439.1 327.6 L441.1 327.3 L443.1 327.0 L445.1 326.7 L447.1 326.5 L449.1 326.2 L451.1 326.0 L453.1 325.7 L455.1 325.5 L457.1 325.2 L459.1 325.0 L461.1 324.7 L463.1 324.5 L465.1 324.3 L467.1 324.1 L469.1 323.8 L471.1 323.6 L473.1 323.4 L475.1 323.2 L477.1 323.0 L479.1 322.8 L481.1 322.6 L483.1 322.4 L485.1 322.2 L487.1 322.0 L489.1 321.8 L491.1 321.6 L493.1 321.4 L495.1 321.2 L497.1 321.1 L499.1 320.9 L501.1 320.7 L503.1 320.5 L505.1 320.4 L507.1 320.2 L509.1 320.0 L511.1 319.9 L513.1 319.7 L515.1 319.6 L517.1 319.4 L519.1 319.2 L521.1 319.1 L523.1 319.0 L525.1 318.8 L527.1 318.7 L529.1 318.5 L531.1 318.4 L533.1 318.2 L535.1 318.1 L537.1 318.0 L539.1 317.9 L541.1 317.7 L543.1 317.6 L545.1 317.5 L546.8 317.4" fill="none" stroke="#000" stroke-width="2" stroke-dasharray="7 3.8" stroke-dashoffset="0.0"/>
<path d="M308.6 306.3 L546.7 306.3" fill="none" stroke="#000" stroke-width="2" stroke-dasharray="3.5 3.5"/>
<path d="M308.6 306.3 L311.7 282.3 L314.6 286.3 L317.7 272.3 L321.0 275.0 L323.9 264.0 L327.0 266.4 L340.7 270.0 L344.5 267.8 L347.2 269.1 L350.4 268.3 L353.2 269.3 L356.4 268.6 L359.1 269.7 L361.1 270.2 L363.1 270.7 L365.1 271.2 L367.1 271.7 L369.1 272.2 L371.1 272.6 L373.1 273.1 L375.1 273.6 L377.1 274.0 L379.1 274.5 L381.1 274.9 L383.1 275.3 L385.1 275.7 L387.1 276.2 L389.1 276.6 L391.1 277.0 L393.1 277.4 L395.1 277.8 L397.1 278.2 L399.1 278.5 L401.1 278.9 L403.1 279.3 L405.1 279.6 L407.1 280.0 L409.1 280.4 L411.1 280.7 L413.1 281.0 L415.1 281.4 L417.1 281.7 L419.1 282.0 L421.1 282.4 L423.1 282.7 L425.1 283.0 L427.1 283.3 L429.1 283.6 L431.1 283.9 L433.1 284.2 L435.1 284.5 L437.1 284.8 L439.1 285.0 L441.1 285.3 L443.1 285.6 L445.1 285.9 L447.1 286.1 L449.1 286.4 L451.1 286.6 L453.1 286.9 L455.1 287.1 L457.1 287.4 L459.1 287.6 L461.1 287.9 L463.1 288.1 L465.1 288.3 L467.1 288.5 L469.1 288.8 L471.1 289.0 L473.1 289.2 L475.1 289.4 L477.1 289.6 L479.1 289.8 L481.1 290.0 L483.1 290.2 L485.1 290.4 L487.1 290.6 L489.1 290.8 L491.1 291.0 L493.1 291.2 L495.1 291.4 L497.1 291.5 L499.1 291.7 L501.1 291.9 L503.1 292.1 L505.1 292.2 L507.1 292.4 L509.1 292.6 L511.1 292.7 L513.1 292.9 L515.1 293.0 L517.1 293.2 L519.1 293.4 L521.1 293.5 L523.1 293.6 L525.1 293.8 L527.1 293.9 L529.1 294.1 L531.1 294.2 L533.1 294.4 L535.1 294.5 L537.1 294.6 L539.1 294.7 L541.1 294.9 L543.1 295.0 L545.1 295.1 L546.8 295.2" fill="none" stroke="#000" stroke-width="2" stroke-linejoin="round"/>
<rect x="359.4" y="396.3" width="137.1" height="15.9" rx="1" fill="#fff" stroke="#666" stroke-width="1.2"/>
<line x1="363.9" y1="404.5" x2="386.7" y2="404.5" stroke="#000" stroke-width="2"/>
<line x1="406.2" y1="404.5" x2="428.8" y2="404.5" stroke="#000" stroke-width="2" stroke-dasharray="3.7 3.35"/>
<line x1="455.5" y1="404.5" x2="478.0" y2="404.5" stroke="#000" stroke-width="2" stroke-dasharray="7 3.8"/>
<text x="390.8" y="407.9" font-family="Liberation Sans, Arial, sans-serif" font-size="10" fill="#222">y<tspan dx="0.4" dy="-0.6">-</tspan></text>
<text x="433.4" y="407.9" font-family="Liberation Sans, Arial, sans-serif" font-size="10" fill="#222">Diff</text>
<text x="482.1" y="407.9" font-family="Liberation Sans, Arial, sans-serif" font-size="10" fill="#222">y<tspan dy="0.6" font-size="9.2">+</tspan></text>
</svg>
</body></html>
